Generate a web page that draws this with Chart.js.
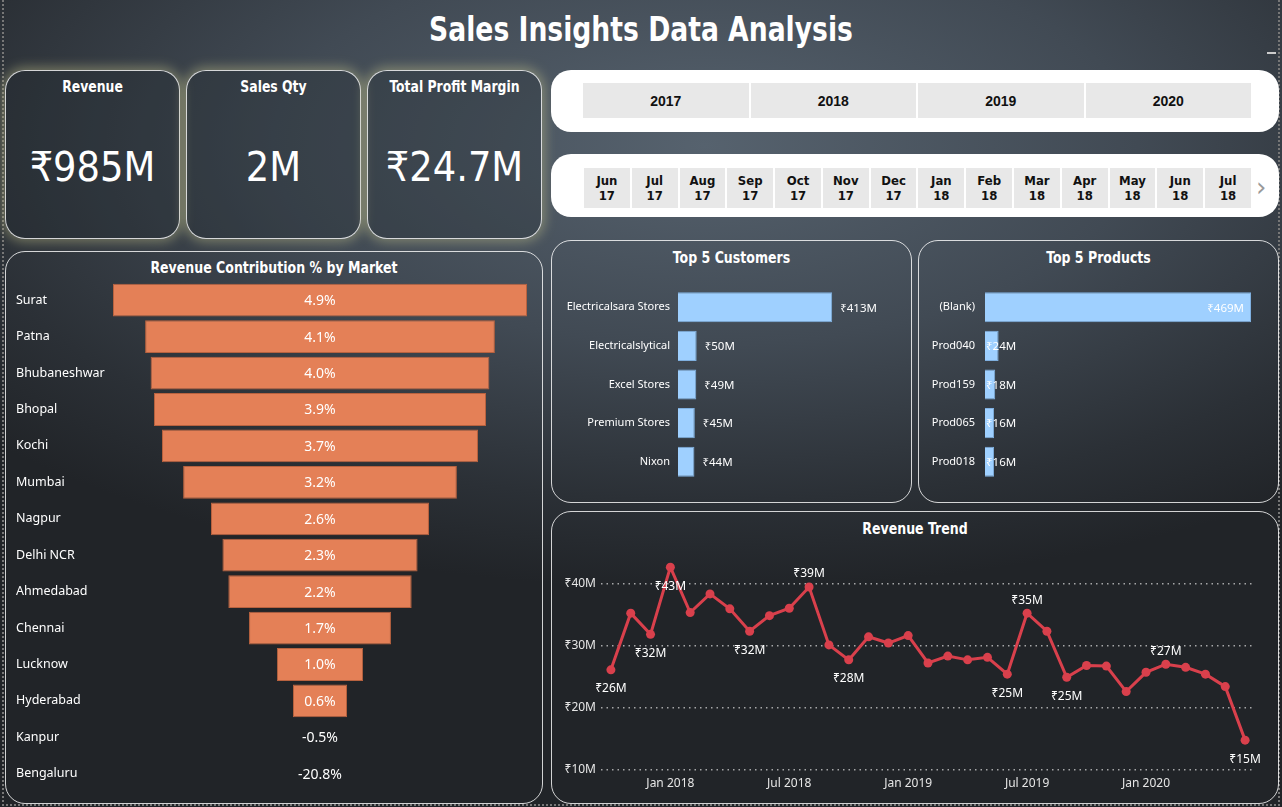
<!DOCTYPE html>
<html>
<head>
<meta charset="utf-8">
<script src="https://cdn.jsdelivr.net/npm/chart.js@4.4.1/dist/chart.umd.min.js"></script>
<style>
html, body { margin: 0; padding: 0; }
body {
    width: 1282px; height: 807px; overflow: hidden; position: relative;
    background: radial-gradient(ellipse 75% 55% at 55% 18%, #56626e 0%, #414a54 45%, #2b3036 80%, #212428 100%);
    font-family: 'Noto Sans', sans-serif; color: #fff;
}
.abs { position: absolute; box-sizing: border-box; }
.frame { left: 2px; top: 0; width: 1278px; height: 806px; border: 2px dotted #777; border-top: none; }
.title { left: 0; width: 1282px; top: 9px; text-align: center; font: bold 34px 'DejaVu Sans Condensed', sans-serif; transform: scaleX(0.87); }
.dash { left: 1267px; top: 52px; width: 9px; height: 2px; background: #ccc; }
.panel { border: 1px solid rgba(255,255,255,0.8); border-radius: 20px; }
.card { box-shadow: 0 0 12px 3px rgba(200, 198, 140, 0.45); background: rgba(25, 30, 35, 0.25); }
.cardTitle { position: absolute; left: 0; right: 0; top: 7px; text-align: center; font: bold 15px 'DejaVu Sans Condensed', sans-serif; transform: scaleX(0.92); }
.cardValue { position: absolute; left: 0; right: 0; top: 72px; text-align: center; font: 41px 'DejaVu Sans Condensed', sans-serif; }
.ptitle { position: absolute; left: 0; right: 0; top: 8px; text-align: center; font: bold 15px 'DejaVu Sans Condensed', sans-serif; transform: scaleX(0.93); }
.slicer { background: #fff; border-radius: 20px; }
.row { position: absolute; display: flex; gap: 2px; }
.cell { flex: 1; background: #e8e8e8; color: #111; display: flex; align-items: center; justify-content: center; text-align: center; }
.year { font: bold 14px 'Liberation Sans', Arial, sans-serif; }
.month { font: bold 13px 'Liberation Sans Narrow', 'DejaVu Sans Condensed', sans-serif; line-height: 15px; }
.chev { left: 1256px; top: 172px; font: 26px 'DejaVu Sans', sans-serif; color: #999; }
canvas { position: absolute; }
</style>
</head>
<body>
<div class="abs frame"></div>
<div class="abs title">Sales Insights Data Analysis</div>
<div class="abs dash"></div>

<div class="abs panel card" style="left:5px;top:70px;width:175px;height:169px;">
    <div class="cardTitle">Revenue</div><div class="cardValue">₹985M</div></div>
<div class="abs panel card" style="left:186px;top:70px;width:175px;height:169px;">
    <div class="cardTitle">Sales Qty</div><div class="cardValue">2M</div></div>
<div class="abs panel card" style="left:367px;top:70px;width:175px;height:169px;">
    <div class="cardTitle">Total Profit Margin</div><div class="cardValue">₹24.7M</div></div>

<div class="abs slicer" style="left:551px;top:70px;width:728px;height:62px;"></div>
<div class="row" id="years" style="left:583px;top:83px;width:668px;height:35px;"></div>
<div class="abs slicer" style="left:551px;top:154px;width:728px;height:63px;"></div>
<div class="row" id="months" style="left:584px;top:168px;width:667px;height:40px;"></div>
<div class="abs chev">›</div>

<div class="abs panel" style="left:5px;top:251px;width:538px;height:553px;">
    <div class="ptitle" style="top:7px;">Revenue Contribution % by Market</div></div>
<div class="abs panel" style="left:551px;top:240px;width:361px;height:263px;">
    <div class="ptitle">Top 5 Customers</div></div>
<div class="abs panel" style="left:918px;top:240px;width:361px;height:263px;">
    <div class="ptitle">Top 5 Products</div></div>
<div class="abs panel" style="left:551px;top:511px;width:728px;height:293px;">
    <div class="ptitle">Revenue Trend</div></div>

<canvas id="funnelChart" width="537" height="510" style="left:5px;top:282px;"></canvas>
<canvas id="customerChart" width="360" height="193" style="left:551px;top:288px;"></canvas>
<canvas id="productChart" width="360" height="193" style="left:918px;top:288px;"></canvas>
<canvas id="trendChart" width="727" height="257" style="left:551px;top:540px;"></canvas>

<script>
// slicer entries
const years = ['2017', '2018', '2019', '2020'];
const monthTiles = ['Jun 17', 'Jul 17', 'Aug 17', 'Sep 17', 'Oct 17', 'Nov 17', 'Dec 17',
    'Jan 18', 'Feb 18', 'Mar 18', 'Apr 18', 'May 18', 'Jun 18', 'Jul 18'];

// revenue contribution % by market
const markets = ['Surat', 'Patna', 'Bhubaneshwar', 'Bhopal', 'Kochi', 'Mumbai', 'Nagpur',
    'Delhi NCR', 'Ahmedabad', 'Chennai', 'Lucknow', 'Hyderabad', 'Kanpur', 'Bengaluru'];
const contribution = [4.9, 4.14, 4.01, 3.93, 3.74, 3.24, 2.58, 2.31, 2.17, 1.68, 1.02, 0.64, -0.5, -20.8];

// top 5 customers / products (₹M)
const customers = ['Electricalsara Stores', 'Electricalslytical', 'Excel Stores', 'Premium Stores', 'Nixon'];
const customerRevenue = [413, 50, 49, 45, 44];
const products = ['(Blank)', 'Prod040', 'Prod159', 'Prod065', 'Prod018'];
const productRevenue = [469, 24, 18, 16, 16];

// monthly revenue trend (₹M)
const trendMonths = ['Oct 2017', 'Nov 2017', 'Dec 2017', 'Jan 2018', 'Feb 2018', 'Mar 2018', 'Apr 2018',
    'May 2018', 'Jun 2018', 'Jul 2018', 'Aug 2018', 'Sep 2018', 'Oct 2018', 'Nov 2018', 'Dec 2018',
    'Jan 2019', 'Feb 2019', 'Mar 2019', 'Apr 2019', 'May 2019', 'Jun 2019', 'Jul 2019', 'Aug 2019',
    'Sep 2019', 'Oct 2019', 'Nov 2019', 'Dec 2019', 'Jan 2020', 'Feb 2020', 'Mar 2020', 'Apr 2020',
    'May 2020', 'Jun 2020'];
const trendRevenue = [26.1, 35.2, 31.8, 42.6, 35.3, 38.3, 35.9, 32.3, 34.8, 36.0, 39.4, 30.1, 27.7,
    31.4, 30.4, 31.6, 27.2, 28.3, 27.7, 28.1, 25.4, 35.2, 32.3, 24.9, 26.8, 26.7, 22.6, 25.7, 27.0,
    26.5, 25.4, 23.4, 14.8];
const trendLabelled = { 0: 'below', 2: 'below', 3: 'below', 7: 'below', 10: 'above', 12: 'below',
    20: 'below', 21: 'above', 23: 'below', 28: 'above', 32: 'below' };
const trendTicks = [10, 20, 30, 40];

years.forEach(y => {
    const c = document.createElement('div');
    c.className = 'cell year';
    c.textContent = y;
    document.getElementById('years').appendChild(c);
});
monthTiles.forEach(m => {
    const c = document.createElement('div');
    c.className = 'cell month';
    c.innerHTML = m.replace(' ', '<br>');
    document.getElementById('months').appendChild(c);
});

// Funnel
const half = Math.max(...contribution) / 2;
new Chart(document.getElementById('funnelChart'), {
    type: 'bar',
    data: {
        labels: markets,
        datasets: [{
            data: contribution.map(v => [-Math.max(v, 0) / 2, Math.max(v, 0) / 2]),
            backgroundColor: '#e48057',
            borderColor: '#b8623f',
            borderWidth: 1,
            borderSkipped: false,
            categoryPercentage: 1,
            barPercentage: 0.9
        }]
    },
    options: {
        indexAxis: 'y',
        responsive: false,
        animation: false,
        layout: { padding: { left: 108, right: 15 } },
        scales: {
            x: { display: false, min: -half, max: half },
            y: { display: false }
        },
        plugins: { legend: { display: false }, tooltip: { enabled: false } }
    },
    plugins: [{
        id: 'funnelLabels',
        afterDatasetsDraw(chart) {
            const ctx = chart.ctx;
            const meta = chart.getDatasetMeta(0);
            const cx = (chart.chartArea.left + chart.chartArea.right) / 2;
            ctx.save();
            ctx.fillStyle = '#fff';
            ctx.textBaseline = 'middle';
            meta.data.forEach((bar, i) => {
                ctx.font = "12.5px 'Noto Sans', sans-serif";
                ctx.textAlign = 'left';
                ctx.fillText(markets[i], 11, bar.y);
                ctx.font = "14px 'Noto Sans', sans-serif";
                ctx.textAlign = 'center';
                ctx.fillText(contribution[i].toFixed(1) + '%', cx, bar.y + 1);
            });
            ctx.restore();
        }
    }]
});

function topChart(id, names, values, maxValue, pad, labelRight, inside) {
    new Chart(document.getElementById(id), {
        type: 'bar',
        data: {
            labels: names,
            datasets: [{
                data: values,
                backgroundColor: '#9fd0ff',
                borderColor: '#7fb0e0',
                borderWidth: 1,
                categoryPercentage: 1,
                barPercentage: 0.78
            }]
        },
        options: {
            indexAxis: 'y',
            responsive: false,
            animation: false,
            layout: { padding: pad },
            scales: {
                x: { display: false, min: 0, max: maxValue },
                y: { display: false }
            },
            plugins: { legend: { display: false }, tooltip: { enabled: false } }
        },
        plugins: [{
            id: 'barLabels',
            afterDatasetsDraw(chart) {
                const ctx = chart.ctx;
                const meta = chart.getDatasetMeta(0);
                ctx.save();
                ctx.textBaseline = 'middle';
                ctx.fillStyle = '#fff';
                meta.data.forEach((bar, i) => {
                    ctx.font = "11px 'Noto Sans', sans-serif";
                    ctx.textAlign = 'right';
                    ctx.fillText(names[i], labelRight, bar.y);
                    ctx.font = "11.5px 'Noto Sans', sans-serif";
                    const txt = '₹' + values[i] + 'M';
                    const w = ctx.measureText(txt).width;
                    ctx.textAlign = 'left';
                    let x;
                    if (inside) x = Math.max(bar.x - 7 - w, bar.base + 1);
                    else x = bar.x + 8;
                    ctx.fillText(txt, x, bar.y + 1);
                });
                ctx.restore();
            }
        }]
    });
}
topChart('customerChart', customers, customerRevenue, 600, { left: 127, right: 9 }, 119, false);
topChart('productChart', products, productRevenue, 469, { left: 67, right: 27 }, 57, true);

// Revenue trend
new Chart(document.getElementById('trendChart'), {
    type: 'line',
    data: {
        labels: trendMonths,
        datasets: [{
            data: trendRevenue,
            borderColor: '#d9404c',
            backgroundColor: '#d9404c',
            borderWidth: 3,
            pointRadius: 4.5,
            pointBorderWidth: 0,
            tension: 0
        }]
    },
    options: {
        responsive: false,
        animation: false,
        layout: { padding: { top: 8, right: 23 } },
        scales: {
            x: {
                offset: true,
                grid: { display: false, drawTicks: false },
                border: { display: false },
                afterFit: s => { s.height = 27; },
                ticks: {
                    autoSkip: false, maxRotation: 0, padding: 6,
                    color: '#e6e6e6', font: { family: 'Noto Sans', size: 12 },
                    callback: (v, i) => /^(Jan|Jul)/.test(trendMonths[i]) ? trendMonths[i] : ''
                }
            },
            y: {
                min: 10, max: 45,
                afterFit: s => { s.width = 50; },
                afterBuildTicks: s => { s.ticks = trendTicks.map(v => ({ value: v })); },
                border: { display: false, dash: [1.5, 4] },
                grid: { color: 'rgba(255,255,255,0.6)', lineWidth: 1.5, drawTicks: false },
                ticks: {
                    padding: 5, color: '#e6e6e6', font: { family: 'Noto Sans', size: 12 },
                    callback: v => '₹' + v + 'M'
                }
            }
        },
        plugins: { legend: { display: false }, tooltip: { enabled: false } }
    },
    plugins: [{
        id: 'pointLabels',
        afterDatasetsDraw(chart) {
            const ctx = chart.ctx;
            const meta = chart.getDatasetMeta(0);
            ctx.save();
            ctx.font = "12px 'Noto Sans', sans-serif";
            ctx.fillStyle = '#fff';
            ctx.textAlign = 'center';
            ctx.textBaseline = 'middle';
            Object.keys(trendLabelled).forEach(k => {
                const p = meta.data[k];
                const dy = trendLabelled[k] === 'above' ? -13 : 19;
                ctx.fillText('₹' + Math.round(trendRevenue[k]) + 'M', p.x, p.y + dy);
            });
            ctx.restore();
        }
    }]
});
</script>
</body>
</html>
